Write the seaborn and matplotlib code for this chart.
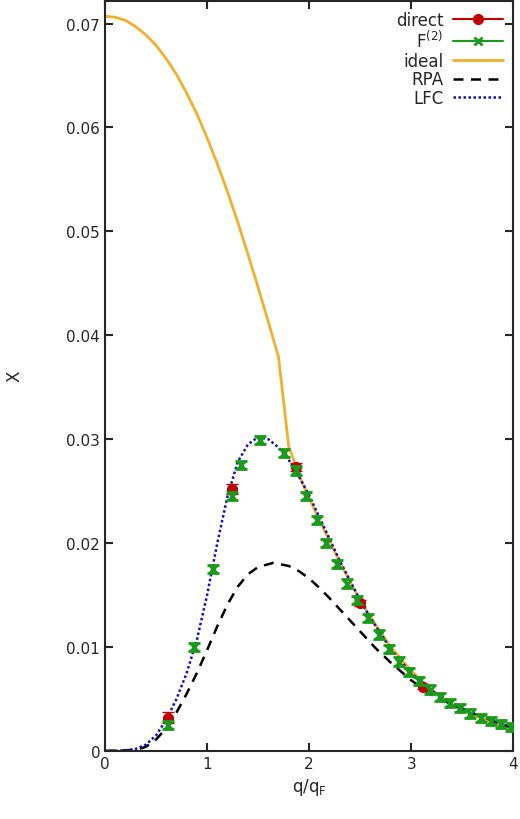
import matplotlib
matplotlib.use("Agg")
import matplotlib.pyplot as plt
import seaborn as sns
import numpy as np
from matplotlib.lines import Line2D

sns.set_style("ticks")
plt.rcParams["font.family"] = ["DejaVu Sans"]

ideal_q = [0, 0.1, 0.2, 0.3, 0.4, 0.5, 0.6, 0.7, 0.8, 0.9, 1.0, 1.1, 1.2, 1.3, 1.4, 1.5, 1.6, 1.7, 1.8, 1.9,
           2.0, 2.1, 2.2, 2.3, 2.4, 2.5, 2.6, 2.8, 3.0, 3.2, 3.4, 3.6, 3.8, 4.0]
ideal_x = [0.0707, 0.0706, 0.0703, 0.0697, 0.0689, 0.0679, 0.0666, 0.0651, 0.0633, 0.0613, 0.0590, 0.0565, 0.0538,
           0.0509, 0.0478, 0.0446, 0.0413, 0.0379, 0.0345, 0.0264 + 0.0002,
           0.0243, 0.0222, 0.0202, 0.0182, 0.0163, 0.0145, 0.0129, 0.0100, 0.0077, 0.0059, 0.0045, 0.0035, 0.0027, 0.0021]
ideal_x[18] = 0.0293
ideal_x[19] = 0.0266

lfc_q = [0, 0.2, 0.3, 0.4, 0.5, 0.6, 0.7, 0.8, 0.9, 1.0, 1.1, 1.2, 1.3, 1.4, 1.5, 1.6, 1.7, 1.8, 1.9,
         2.0, 2.1, 2.2, 2.3, 2.4, 2.5, 2.6, 2.8, 3.0, 3.2, 3.5, 3.8, 4.0]
lfc_x = [0, 0.00005, 0.0002, 0.0006, 0.0015, 0.0030, 0.0050, 0.0075, 0.0107, 0.0150, 0.0200, 0.0245, 0.0278,
         0.0295, 0.0302, 0.0300, 0.0292, 0.0280, 0.0264, 0.0246, 0.0225, 0.0204, 0.0183, 0.0164, 0.0145, 0.0128,
         0.0098, 0.0075, 0.0058, 0.0041, 0.0029, 0.0021]

rpa_q = [0, 0.3, 0.4, 0.5, 0.6, 0.7, 0.8, 0.9, 1.0, 1.1, 1.2, 1.3, 1.4, 1.5, 1.65, 1.8, 1.9, 2.0, 2.1, 2.2,
         2.35, 2.5, 2.65, 2.8, 3.0, 3.2, 3.5, 3.8, 4.0]
rpa_x = [0, 0.0001, 0.0004, 0.0011, 0.0022, 0.0037, 0.0055, 0.0075, 0.0097, 0.0120, 0.0141, 0.0158, 0.0170,
         0.0177, 0.0181, 0.0178, 0.0173, 0.0166, 0.0157, 0.0147, 0.0131, 0.0115, 0.0099, 0.0085, 0.0068,
         0.0054, 0.0040, 0.0029, 0.0022]

direct_q = [0.62, 1.24, 1.87, 2.50, 3.12]
direct_x = [0.0032, 0.0252, 0.0273, 0.0142, 0.0062]
direct_err = [0.0005, 0.0005, 0.0004, 0.0003, 0.0002]

f2_q = [0.62, 0.87, 1.06, 1.24, 1.33, 1.52, 1.75, 1.87, 1.97, 2.08, 2.17, 2.27, 2.37, 2.47,
        2.58, 2.68, 2.78, 2.88, 2.98, 3.08, 3.18, 3.28, 3.38, 3.48, 3.58, 3.68, 3.78, 3.88, 3.98]
f2_x = [0.0025, 0.0100, 0.0175, 0.0245, 0.0275, 0.0299, 0.0287, 0.0270, 0.0245, 0.0222, 0.0200, 0.0180, 0.0161, 0.0145,
        0.0128, 0.0112, 0.0098, 0.0086, 0.0076, 0.0067, 0.0059, 0.0052, 0.0046, 0.0041, 0.0036, 0.0032, 0.0029, 0.0026, 0.0023]
f2_err = [0.0004] * len(f2_q)

red, green, gold, blue = "#c00000", "#1a9a1a", "#f0b030", "#1010c0"

fig = plt.figure(figsize=(5.2, 8.2), dpi=100)
ax = fig.add_axes([0.202, 0.083, 0.785, 0.915])

ax.errorbar(direct_q, direct_x, yerr=direct_err, fmt="o", color=red, ms=7,
            capsize=4, lw=1.2, zorder=4)
ax.errorbar(f2_q, f2_x, yerr=f2_err, fmt="x", color=green, ms=6, mew=2,
            capsize=4, lw=1.2, zorder=5)
sns.lineplot(x=ideal_q, y=ideal_x, ax=ax, color=gold, lw=2)
sns.lineplot(x=rpa_q, y=rpa_x, ax=ax, color="black", lw=1.8, ls=(0, (4, 3)))
sns.lineplot(x=lfc_q, y=lfc_x, ax=ax, color=blue, lw=1.8, ls=(0, (1, 1)))

ax.set_xlim(0, 4)
ax.set_ylim(0, 0.0722)
ax.set_xticks([0, 1, 2, 3, 4])
ax.set_yticks(np.arange(0, 0.071, 0.01))
ax.set_yticklabels(["0"] + [f"{v:.2f}" for v in np.arange(0.01, 0.071, 0.01)])
ax.tick_params(direction="in", top=True, right=True, length=6, width=1.5, labelsize=11)
for s in ax.spines.values():
    s.set_linewidth(1.5)
ax.set_xlabel(r"q/q$_\mathrm{F}$", fontsize=12)
ax.set_ylabel("X", fontsize=12)
ax.yaxis.set_label_coords(-0.2, 0.5)

handles = [
    Line2D([], [], color=red, marker="o", ms=7, lw=1.5),
    Line2D([], [], color=green, marker="x", ms=6, mew=2, lw=1.5),
    Line2D([], [], color=gold, lw=2),
    Line2D([], [], color="black", lw=1.8, ls=(0, (4, 3))),
    Line2D([], [], color=blue, lw=1.8, ls=(0, (1, 1))),
]
labels = ["direct", r"F$^{(2)}$", "ideal", "RPA", "LFC"]
leg = ax.legend(handles, labels, loc="upper right", frameon=False, fontsize=12, markerfirst=False,
                handlelength=3, labelspacing=0.05, borderaxespad=0.2, handletextpad=0.6)

fig.savefig("out.png", dpi=100)
